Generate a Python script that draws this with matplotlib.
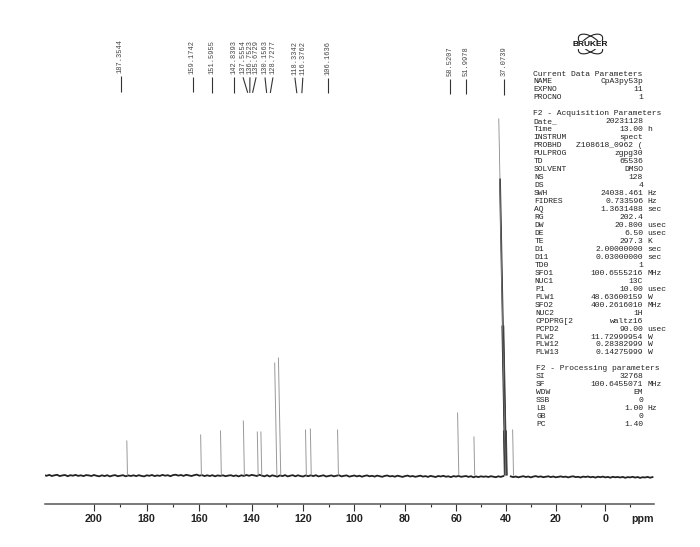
import numpy as np
import matplotlib
matplotlib.use('Agg')
import matplotlib.pyplot as plt
from matplotlib.patches import Ellipse
from matplotlib.transforms import Affine2D

# Axis calibration, the scan is not quite linear
cal_ppm = [240, 200, 180, 160, 140, 120, 100, 80, 60, 40, 20, 0, -40]
cal_px = [-11.4, 94, 146.7, 199.3, 251.7, 303, 354.3, 405, 456, 505.7, 555.7, 605.3, 704.5]

major_ticks = [200, 180, 160, 140, 120, 100, 80, 60, 40, 20, 0]
minor_ticks = [190, 170, 150, 130, 110, 90, 70, 50, 30, 10, -10]

# Peaks (ppm, height above baseline)
peak_ppm = [187.3, 159.2, 151.6, 142.8, 137.5, 136.1, 130.2, 128.7, 118.7, 116.8, 106.2, 58.9, 52.5, 36.9]
peak_height = [35, 41, 45, 55, 44, 44, 113, 118, 46, 47, 46, 63, 39, 46]

# Solvent multiplet
dmso_ppm = [40.6, 40.4, 40.2, 40.0, 39.8, 39.6, 39.4]
dmso_height = [45, 150, 297, 357, 297, 150, 45]
dmso_color = ['#333333', '#333333', '#333333', '#8a8a8a', '#333333', '#333333', '#333333']

# Baseline read at 1 ppm steps from 219 down to -19
baseline_ppm = list(range(219, -20, -1))
baseline_val = [
    0.4, -0.3, 0.6, -0.5, 0.2, 0.7, -0.6, 0.1, 0.5, -0.7, 0.3, -0.2, 0.6, -0.4, 0.2, -0.6, 0.4, 0.1, -0.5, 0.5,
    -0.3, -0.8, 0.2, -0.6, 0.3, -0.9, -0.1, 0.4, -0.7, -0.2, 0.3, -0.8, 0.1, -0.5, 0.2, -0.6, 0.3, -0.4, -0.9, 0.2,
    -0.3, 0.5, -0.6, 0.1, -0.4, 0.6, -0.2, 0.3, -0.7, 0.4, 0.8, -0.1, 0.5, -0.4, 0.7, 0.1, -0.5, 0.3, 0.9, -0.2,
    0.4, -0.6, 0.2, -0.5, 0.3, -0.8, 0.1, -0.4, 0.2, -0.7, -0.1, 0.3, -0.6, 0.1, -0.9, 0.2, -0.4, 0.5, -0.3, 0.6,
    0.1, -0.5, 0.7, -0.2, -0.8, 0.3, -1.0, 0.2, -0.5, -1.1, 0.1, -0.6, 0.4, -0.9, -0.2, 0.3, -0.8, 0.2, -0.5, -1.0,
    0.1, -0.7, 0.2, -0.6, 0.3, -0.9, -0.3, 0.2, -1.0, -0.4, 0.1, -0.8, -0.2, 0.3, -0.9, -0.3, 0.1, -1.1, -0.5, 0.0,
    -0.9, -0.2, -1.2, -0.4, 0.1, -0.8, -0.3, -1.1, -0.1, -0.7, -1.3, -0.4, 0.0, -0.9, -0.5, -1.2, -0.2, -0.8, -1.4, -0.6,
    -0.1, -1.0, -0.5, -1.3, -0.7, -0.2, -1.1, -0.6, -1.4, -0.4, -0.9, -1.5, -0.5, -1.0, -0.3, -1.2, -0.8, -1.6, -0.6, -1.1,
    -0.4, -1.3, -0.9, -0.5, -1.4, -0.7, -1.8, -0.9, -1.6, -0.8, -1.3, -0.9, -1.5, -0.7, -1.2, -1.7, -0.8, -1.4, -0.6, np.nan,
    np.nan, -0.9, -1.6, -1.0, -1.8, -1.2, -0.7, -1.5, -1.0, -1.9, -1.1, -0.6, -1.4, -0.9, -1.7, -1.2, -0.8, -1.6, -1.0, -1.8,
    -1.3, -0.9, -1.5, -1.1, -1.9, -1.2, -0.8, -1.6, -1.3, -2.0, -1.1, -1.5, -1.0, -1.8, -1.3, -2.1, -1.2, -1.7, -1.1, -1.9,
    -1.4, -2.2, -1.3, -1.8, -1.5, -2.0, -1.4, -2.3, -1.6, -1.9, -1.3, -2.1, -1.5, -2.4, -1.7, -2.0, -1.4, -2.2, -1.6,
]

# Peak labels along the top
label_ppm = [187.3544, 159.1742, 151.5955, 142.8393, 137.5554, 136.7523, 135.6729, 130.1563, 128.7277,
             118.3342, 116.3762, 106.1636, 58.5207, 51.9978, 37.0739]
label_text = ['187.3544', '159.1742', '151.5955', '142.8393', '137.5554', '136.7523', '135.6729', '130.1563',
              '128.7277', '118.3342', '116.3762', '106.1636', '58.5207', '51.9978', '37.0739']
# where the crowded labels get moved to
label_spread = [187.3544, 159.1742, 151.5955, 142.8393, 139.4, 136.7, 134.3, 130.8, 127.7,
                119.1, 116.0, 106.1636, 58.5207, 51.9978, 37.0739]

# Parameter block: (left text, value, unit)
params = [
    ('Current Data Parameters', '', ''),
    ('NAME', 'CpA3py53p', ''),
    ('EXPNO', '11', ''),
    ('PROCNO', '1', ''),
    ('', '', ''),
    ('F2 - Acquisition Parameters', '', ''),
    ('Date_', '20231128', ''),
    ('Time', '13.00', 'h'),
    ('INSTRUM', 'spect', ''),
    ('PROBHD', 'Z108618_0962 (', ''),
    ('PULPROG', 'zgpg30', ''),
    ('TD', '65536', ''),
    ('SOLVENT', 'DMSO', ''),
    ('NS', '128', ''),
    ('DS', '4', ''),
    ('SWH', '24038.461', 'Hz'),
    ('FIDRES', '0.733596', 'Hz'),
    ('AQ', '1.3631488', 'sec'),
    ('RG', '202.4', ''),
    ('DW', '20.800', 'usec'),
    ('DE', '6.50', 'usec'),
    ('TE', '297.3', 'K'),
    ('D1', '2.00000000', 'sec'),
    ('D11', '0.03000000', 'sec'),
    ('TD0', '1', ''),
    ('SFO1', '100.6555216', 'MHz'),
    ('NUC1', '13C', ''),
    ('P1', '10.00', 'usec'),
    ('PLW1', '48.63600159', 'W'),
    ('SFO2', '400.2616010', 'MHz'),
    ('NUC2', '1H', ''),
    ('CPDPRG[2', 'waltz16', ''),
    ('PCPD2', '90.00', 'usec'),
    ('PLW2', '11.72999954', 'W'),
    ('PLW12', '0.28382999', 'W'),
    ('PLW13', '0.14275999', 'W'),
    ('', '', ''),
    ('F2 - Processing parameters', '', ''),
    ('SI', '32768', ''),
    ('SF', '100.6455071', 'MHz'),
    ('WDW', 'EM', ''),
    ('SSB', '0', ''),
    ('LB', '1.00', 'Hz'),
    ('GB', '0', ''),
    ('PC', '1.40', ''),
]

W, H = 700, 547
AX_LEFT, AX_RIGHT = 45, 654
AX_TOP, AX_BOTTOM = 20, 503.5
BASE_Y = 475.5


def forward(ppm):
    return -np.interp(ppm, cal_ppm[::-1], cal_px[::-1])


def inverse(v):
    return np.interp(-np.asarray(v), cal_px, cal_ppm)


fig = plt.figure(figsize=(W / 100, H / 100), dpi=100)
rect = [AX_LEFT / W, (H - AX_BOTTOM) / H, (AX_RIGHT - AX_LEFT) / W, (AX_BOTTOM - AX_TOP) / H]

# Main spectrum axes
ax = fig.add_axes(rect)
ax.set_xscale('function', functions=(forward, inverse))
ax.set_xlim(218.6, -19.6)
ax.set_ylim(BASE_Y - AX_BOTTOM, BASE_Y - AX_TOP)
for side in ['top', 'left', 'right']:
    ax.spines[side].set_visible(False)
ax.spines['bottom'].set_color('#555555')
ax.spines['bottom'].set_linewidth(1.1)
ax.patch.set_alpha(0)
ax.set_yticks([])
ax.set_xticks(major_ticks)
ax.set_xticklabels([str(t) for t in major_ticks], fontfamily='Liberation Sans', fontweight='bold', fontsize=7.7)
ax.set_xticks(minor_ticks, minor=True)
ax.tick_params(axis='x', which='major', length=5, width=0.8, color='#333333', pad=2.5, labelcolor='#222222')
ax.tick_params(axis='x', which='minor', length=2, width=0.8, color='#333333')
ax.text(AX_RIGHT / W, (H - 518.5) / H, 'ppm', transform=fig.transFigure, ha='right', va='center',
        fontfamily='Liberation Sans', fontweight='bold', fontsize=7.7, color='#222222')

# The scan leans a little, shear the peaks about the baseline
k = -7.0 / 357.0
y0 = H - BASE_Y
shear = Affine2D.from_values(1, 0, k, 1, -k * y0, 0)
tr = ax.transData + shear

ax.plot(baseline_ppm, baseline_val, color='#222222', lw=1.3)
ax.vlines(peak_ppm, 0, peak_height, color='#999999', lw=0.7, transform=tr)
ax.vlines(dmso_ppm, 0, dmso_height, colors=dmso_color, lw=0.6, transform=tr)

# Peak label axes, this one is linear in ppm
ax_lab = fig.add_axes(rect)
ax_lab.axis('off')
ax_lab.set_xlim((599.2 - AX_LEFT) / 2.555, (599.2 - AX_RIGHT) / 2.555)
ax_lab.set_ylim(AX_BOTTOM, AX_TOP)
for p, s, txt in zip(label_ppm, label_spread, label_text):
    top = 76.5 + (187.35 - p) * 0.0167
    ax_lab.plot([s, p], [top, top + 15.5], color='#333333', lw=0.8, solid_capstyle='butt')
    ax_lab.text(s, top - 3, txt, rotation=90, ha='center', va='bottom',
                fontfamily='Liberation Mono', fontsize=5.0, color='#444444')

# Text block and logo in pixel coordinates
ax_txt = fig.add_axes([0, 0, 1, 1])
ax_txt.axis('off')
ax_txt.set_xlim(0, W)
ax_txt.set_ylim(H, 0)
for i, (name, value, unit) in enumerate(params):
    y = 74 + 7.97 * i
    x = 533 + 0.07 * i
    if name:
        ax_txt.text(x, y, name, ha='left', va='center', fontfamily='Liberation Mono', fontsize=5.75, color='#222222')
    if value:
        ax_txt.text(643, y, value, ha='right', va='center', fontfamily='Liberation Mono', fontsize=5.75, color='#222222')
    if unit:
        ax_txt.text(647.5, y, unit, ha='left', va='center', fontfamily='Liberation Mono', fontsize=5.75, color='#222222')

for angle in [35, -35]:
    ax_txt.add_patch(Ellipse((590.5, 44), 28, 14, angle=angle, fill=False, ec='#222222', lw=0.8))
ax_txt.text(590, 45, 'BRUKER', ha='center', va='center', fontfamily='Liberation Sans', fontweight='bold',
            fontsize=6.0, color='#111111',
            bbox=dict(facecolor='white', edgecolor='none', pad=0.2))

plt.savefig('out.png', dpi=100)
